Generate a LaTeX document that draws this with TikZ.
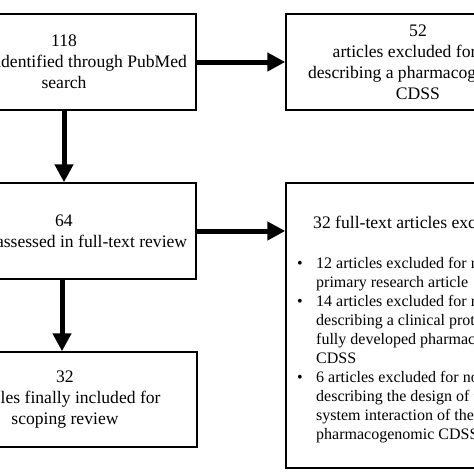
\documentclass[tikz,border=0pt]{standalone}
\usepackage{fontspec}
\setmainfont{Liberation Serif}
\usetikzlibrary{arrows.meta}
\begin{document}
\begin{tikzpicture}[x=1pt,y=-1pt,
  box/.style={draw, line width=1.5pt, inner sep=0pt, minimum width=264pt, minimum height=96pt, align=center, font=\fontsize{17.6}{21}\selectfont},
  plain/.style={inner sep=0pt},
  flow/.style={line width=5pt, -{Triangle[length=18pt,width=18pt]}},
]
\path[use as bounding box] (0,0) rectangle (474,474);
\clip (0,0) rectangle (474,474);
\node[box] (b1) at (64,62) {118\\articles identified through PubMed\\search};
\node[box] (b2) at (418,62) {52\\articles excluded for not\\describing a pharmacogenomic\\CDSS};
\node[box] (b3) at (64,231) {64\\articles assessed in full-text review};
\node[box, minimum height=95pt] (b5) at (65,399.5) {32\\articles finally included for\\scoping review};
\node[box, minimum width=300pt, minimum height=285pt] (b4) at (436,325.5) {};
\node[plain, anchor=base west, font=\fontsize{17.6}{21}\selectfont] (h4) at (313,228) {32 full-text articles excluded};
\node[plain, anchor=base west, font=\fontsize{16}{19}\selectfont] (l4) at (297,268) {%
\begin{tabular}[t]{@{}p{19pt}@{}l@{}}
\textbullet & 12 articles excluded for not being a\\
 & primary research article\\
\textbullet & 14 articles excluded for not\\
 & describing a clinical protocol or\\
 & fully developed pharmacogenomic\\
 & CDSS\\
\textbullet & 6 articles excluded for not\\
 & describing the design of the\\
 & system interaction of the\\
 & pharmacogenomic CDSS
\end{tabular}};
\draw[flow] (b1.east) -- (b2.west);
\draw[flow] (b1.south) -- (b3.north);
\draw[flow] (b3.east) -- (b3.east -| b4.west);
\draw[flow] ([xshift=-2pt]b3.south) -- ([xshift=-2pt]b3.south |- b5.north);
\end{tikzpicture}
\end{document}
